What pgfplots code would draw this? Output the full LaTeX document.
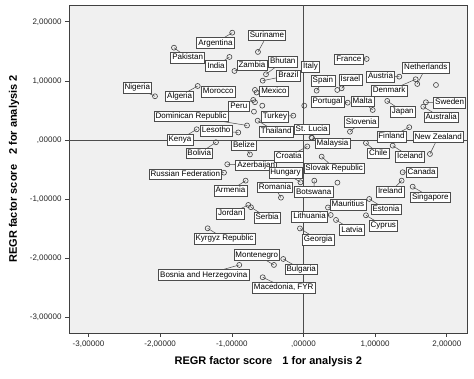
\documentclass[border=0pt]{standalone}
\usepackage{pgfplots}
\pgfplotsset{compat=1.18}
\usepackage{pgfplotstable}
\usepackage{fontspec}
\setmainfont{Liberation Sans}

\pgfplotstableread[col sep=semicolon]{
x;y;lx;ly;L;label
-0.994;1.815;-1.228;1.641;1;Argentina
-1.807;1.561;-1.616;1.390;1;Pakistan
-1.033;1.404;-1.221;1.252;1;India
-0.963;1.167;-0.719;1.264;1;Zambia
-0.635;1.489;-0.509;1.768;1;Suriname
-2.072;0.739;-2.319;0.883;1;Nigeria
-1.476;0.913;-1.728;0.741;1;Algeria
-0.677;0.846;-1.189;0.820;0;Morocco
-0.653;0.803;-0.412;0.824;0;Mexico
-0.523;1.111;-0.289;1.323;1;Bhutan
-0.569;1.003;-0.212;1.091;1;Brazil
-0.701;0.677;-0.903;0.570;1;Peru
-0.788;0.245;-1.567;0.401;1;Dominican Republic
-0.910;0.127;-1.218;0.156;1;Lesotho
-1.490;0.181;-1.723;0.008;1;Kenya
-1.221;-0.039;-1.454;-0.228;1;Bolivia
-0.747;-0.245;-0.830;-0.088;1;Belize
-1.063;-0.411;-0.660;-0.428;1;Azerbaijan
-1.109;-0.553;-1.649;-0.578;1;Russian Federation
-0.807;-0.688;-1.019;-0.854;1;Armenia
-0.770;-1.099;-1.021;-1.248;1;Jordan
-0.733;-1.138;-0.507;-1.311;1;Serbia
0.053;-0.110;-0.205;-0.279;1;Croatia
0.119;0.034;0.405;-0.056;1;Malaysia
0.112;0.042;0.114;0.178;0;St. Lucia
0.649;0.140;0.807;0.304;1;Slovenia
0.872;-0.051;1.044;-0.228;1;Chile
1.476;0.215;1.228;0.059;1;Finland
1.245;-0.096;1.486;-0.282;1;Iceland
1.765;-0.237;1.881;0.051;1;New Zealand
0.254;-0.282;0.428;-0.477;1;Slovak Republic
-0.042;-0.716;-0.251;-0.555;1;Hungary
-0.314;-0.976;-0.398;-0.803;1;Romania
0.151;-0.688;0.142;-0.880;1;Botswana
1.384;-0.546;1.649;-0.545;1;Canada
1.370;-0.688;1.211;-0.875;1;Ireland
1.524;-0.790;1.770;-0.968;1;Singapore
0.342;-1.142;0.621;-1.091;1;Mauritius
0.918;-0.998;1.151;-1.172;1;Estonia
0.872;-1.274;1.114;-1.451;1;Cyprus
0.380;-1.269;0.084;-1.297;1;Lithuania
0.454;-1.353;0.677;-1.522;1;Latvia
-0.049;-1.497;0.205;-1.688;1;Georgia
-1.337;-1.494;-1.102;-1.670;1;Kyrgyz Republic
-0.412;-2.114;-0.652;-1.945;1;Montenegro
-0.896;-2.114;-1.391;-2.284;1;Bosnia and Herzegovina
-0.282;-2.013;-0.032;-2.185;1;Bulgaria
-0.569;-2.322;-0.276;-2.495;1;Macedonia, FYR
0.011;0.580;0.098;1.240;0;Italy
0.184;0.834;0.272;1.001;1;Spain
0.617;0.631;0.335;0.646;1;Portugal
0.966;0.507;0.823;0.655;1;Malta
0.533;0.875;0.656;1.020;1;Israel
0.882;1.370;0.632;1.367;1;France
1.337;1.071;1.075;1.074;1;Austria
1.588;0.947;1.707;1.226;1;Netherlands
1.566;1.027;1.196;0.832;1;Denmark
1.169;0.660;1.386;0.482;1;Japan
1.709;0.638;2.040;0.634;1;Sweden
1.672;0.563;1.922;0.381;1;Australia
-0.142;0.411;-0.398;0.394;1;Turkey
-0.639;0.326;-0.380;0.140;1;Thailand
}\labeled

\pgfplotstableread{
x y
1.849 0.930
-0.677 0.638
-0.575 0.580
-0.691 0.479
0.472 0.846
0.474 -0.722
}\unlabeled

\begin{document}
\begin{tikzpicture}
\useasboundingbox (-69pt,-46pt) rectangle (405pt,333pt);
\begin{axis}[
  at={(0,0)}, anchor=south west,
  scale only axis, width=398.5pt, height=328pt,
  xmin=-3.272, xmax=2.289, ymin=-3.265, ymax=2.283,
  axis background/.style={fill=black!6},
  axis line style={black!75, line width=0.6pt},
  xtick={-3,-2,-1,0,1,2},
  xticklabels={{-3,00000},{-2,00000},{-1,00000},{,00000},{1,00000},{2,00000}},
  ytick={-3,-2,-1,0,1,2},
  yticklabels={{-3,00000},{-2,00000},{-1,00000},{,00000},{1,00000},{2,00000}},
  tick align=outside, major tick length=4pt, tick pos=left,
  tick style={black!75, line width=0.6pt},
  tick label style={font=\fontsize{8}{9}\selectfont, text=black!85},
  xlabel={REGR factor score\hspace{7pt} 1 for analysis 2},
  ylabel={REGR factor score\hspace{7pt} 2 for analysis 2},
  label style={font=\bfseries\fontsize{11}{13}\selectfont},
  xlabel style={at={(axis description cs:0.5,-0.0884)}, anchor=center},
  ylabel style={at={(axis description cs:-0.138,0.5)}, anchor=center},
]
\addplot[black!70, line width=0.5pt, -, quiver={u={\thisrow{L}*(\thisrow{lx}-\thisrow{x})}, v={\thisrow{L}*(\thisrow{ly}-\thisrow{y})}}] table[x=x, y=y] {\labeled};
\addplot[only marks, mark=none, nodes near coords, point meta=explicit symbolic,
  every node near coord/.append style={anchor=center, draw=black!70, fill=white, line width=0.5pt,
    font=\fontsize{8}{9}\selectfont, inner xsep=1.6pt, inner ysep=1.5pt, text height=5.9pt, text depth=1.7pt}]
  table[x=lx, y=ly, meta=label] {\labeled};
\addplot[only marks, mark=o, mark size=2.5pt, mark options={black!75, line width=0.6pt}] table[x=x, y=y] {\labeled};
\addplot[only marks, mark=o, mark size=2.5pt, mark options={black!75, line width=0.6pt}] table[x=x, y=y] {\unlabeled};
\addplot[black!70, line width=0.8pt] coordinates {(0,-3.265) (0,2.283)};
\addplot[black!70, line width=0.8pt] coordinates {(-3.272,0) (2.289,0)};
\end{axis}
\end{tikzpicture}
\end{document}
